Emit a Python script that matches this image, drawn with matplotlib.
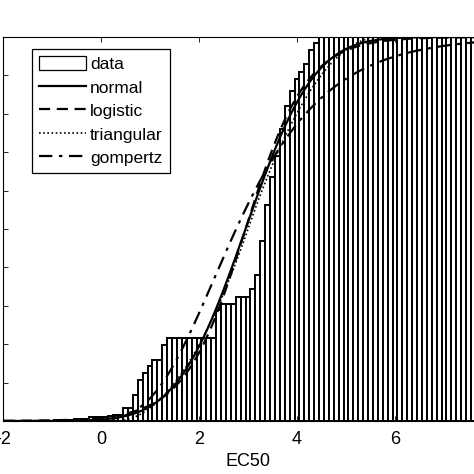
import matplotlib.pyplot as plt
import numpy as np
from math import erf

plt.rcParams['font.family'] = ['Liberation Sans', 'DejaVu Sans']

# cumulative histogram, one bar per 0.1 of EC50 (centres -2.0 ... 8.0)
bin_centers = np.linspace(-2.0, 8.0, 101)
ecdf_heights = [
    0, 0, 0, 0, 0, 0, 0, 0, 0, 0, 0,                      # -2.0 .. -1.0
    0.003, 0.003, 0.003, 0.003, 0.006, 0.006, 0.006,      # -0.9 .. -0.3
    0.010, 0.010,                                         # -0.2 .. -0.1
    0.010, 0.010, 0.013, 0.016, 0.016, 0.034, 0.034,      #  0.0 ..  0.6
    0.069, 0.107, 0.125, 0.143, 0.160, 0.160, 0.198,      #  0.7 ..  1.3
    0.216, 0.216, 0.216, 0.216, 0.216,                    #  1.4 ..  1.8
    0.216, 0.216, 0.216, 0.216, 0.216,                    #  1.9 ..  2.3
    0.290, 0.305, 0.305, 0.305, 0.323, 0.323, 0.323,      #  2.4 ..  3.0
    0.345, 0.380, 0.470, 0.563, 0.635, 0.690, 0.760,      #  3.1 ..  3.7
    0.820, 0.860, 0.890, 0.910, 0.930, 0.966, 0.985,      #  3.8 ..  4.4
    1.0, 1.0, 1.0, 1.0, 1.0, 1.0, 1.0, 1.0, 1.0, 1.0,     #  4.5 ..  5.4
    1.0, 1.0, 1.0, 1.0, 1.0, 1.0, 1.0, 1.0, 1.0, 1.0,     #  5.5 ..  6.4
    1.0, 1.0, 1.0, 1.0, 1.0, 1.0, 1.0, 1.0, 1.0, 1.0,     #  6.5 ..  7.4
    1.0, 1.0, 1.0, 1.0, 1.0, 1.0,                         #  7.5 ..  8.0
]

x_ticks = [-2, 0, 2, 4, 6, 8]
x_tick_labels = ['-2', '0', '2', '4', '6', '']

# fitted distribution parameters
normal_mu, normal_sigma = 2.95, 1.1
logistic_mu, logistic_s = 2.95, 0.62
tri_a, tri_c, tri_b = 0.3, 3.0, 5.7
gomp_mu, gomp_beta = 2.3, 1.25


def normal_cdf(x):
    return 0.5 * (1 + np.vectorize(erf)((x - normal_mu) / (normal_sigma * np.sqrt(2))))


def logistic_cdf(x):
    return 1 / (1 + np.exp(-(x - logistic_mu) / logistic_s))


def triangular_cdf(x):
    y = np.where(x <= tri_c,
                 (x - tri_a) ** 2 / ((tri_b - tri_a) * (tri_c - tri_a)),
                 1 - (tri_b - x) ** 2 / ((tri_b - tri_a) * (tri_b - tri_c)))
    y = np.where(x < tri_a, 0, y)
    y = np.where(x > tri_b, 1, y)
    return y


def gompertz_cdf(x):
    return np.exp(-np.exp(-(x - gomp_mu) / gomp_beta))


fig = plt.figure(figsize=(4.74, 4.74), dpi=100)
ax = fig.add_axes([3 / 474, 53 / 474, 490 / 474, 384 / 474])

bars = ax.bar(bin_centers, ecdf_heights, width=0.1, color='white',
              edgecolor='black', linewidth=1.4, label='data')

xs = np.linspace(-2, 8, 600)
l1, = ax.plot(xs, normal_cdf(xs), color='black', lw=1.6, ls='-', label='normal')
l2, = ax.plot(xs, logistic_cdf(xs), color='black', lw=1.6, ls=(0, (5, 3)), label='logistic')
l3, = ax.plot(xs, triangular_cdf(xs), color='black', lw=1.2, ls=(0, (1, 1.5)), label='triangular')
l4, = ax.plot(xs, gompertz_cdf(xs), color='black', lw=1.6, ls=(0, (6, 3, 1.5, 3)), label='gompertz')

ax.set_xlim(-2, 8)
ax.set_ylim(0, 1)
ax.set_xticks(x_ticks)
ax.set_xticklabels(x_tick_labels)
ax.set_yticks(np.linspace(0, 1, 11))
ax.tick_params(direction='in', top=True, right=True, length=3.6, width=0.6,
               labelsize=13, pad=7, labelleft=False)
for sp in ax.spines.values():
    sp.set_linewidth(0.8)
ax.set_xlabel('EC50', fontsize=13, labelpad=4)

leg = ax.legend([bars, l1, l2, l3, l4],
                ['data', 'normal', 'logistic', 'triangular', 'gompertz'],
                loc='upper left', bbox_to_anchor=(0.059, 0.969), borderaxespad=0,
                fontsize=12.5, fancybox=False, framealpha=1, edgecolor='black',
                handlelength=2.7, handletextpad=0.25, labelspacing=0.42,
                handleheight=0.9, borderpad=0.4)
leg.get_frame().set_linewidth(0.9)
for p in leg.get_patches():
    p.set_linewidth(0.9)

fig.savefig('out.png', dpi=100)
